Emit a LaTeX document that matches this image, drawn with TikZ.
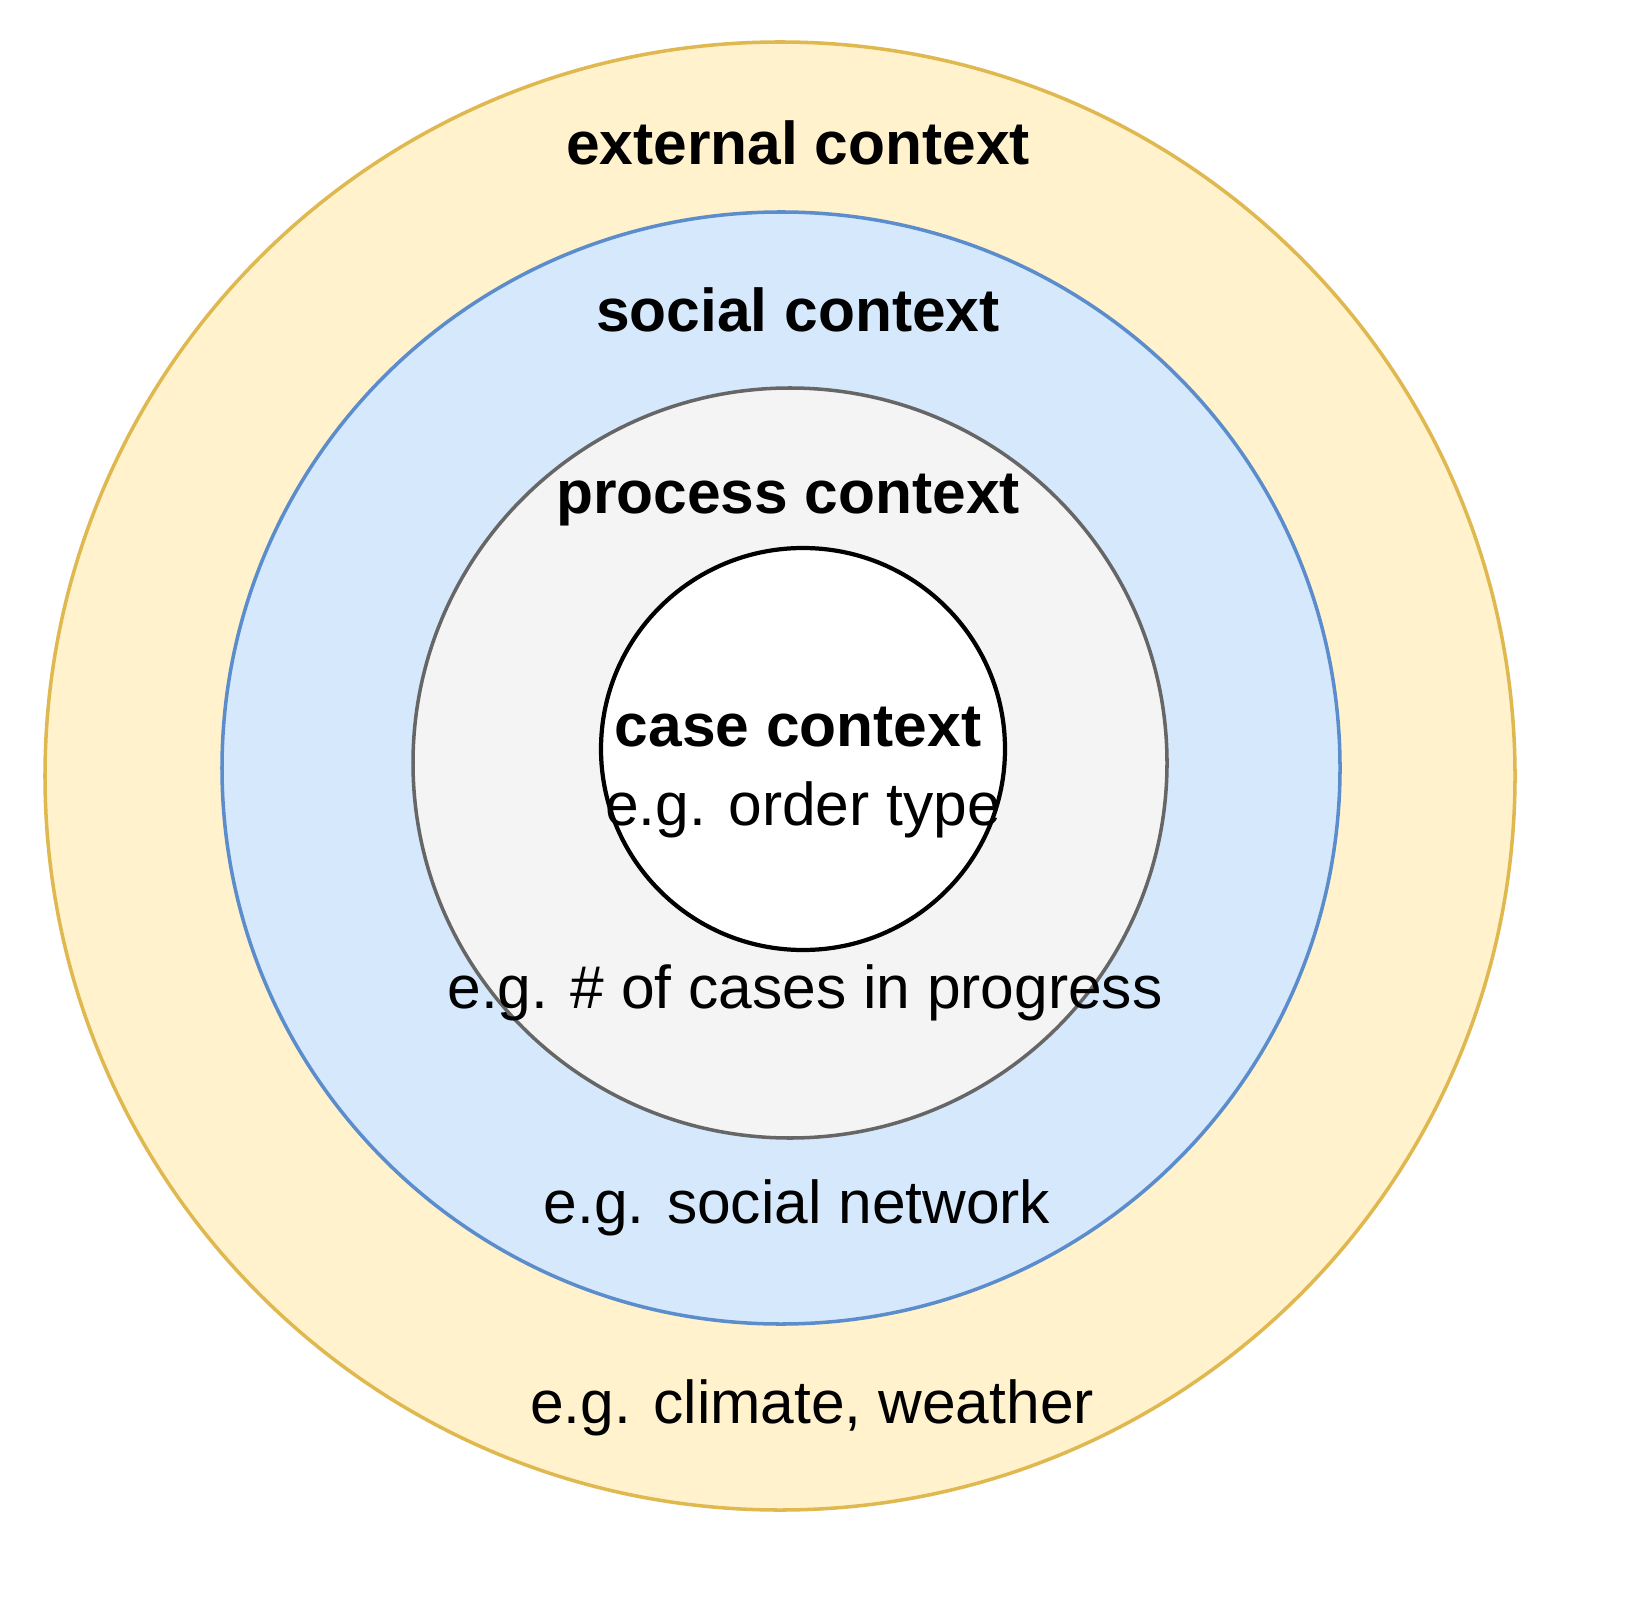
\documentclass[tikz,border=0pt]{standalone}
\usepackage{fontspec}
\setmainfont{Liberation Sans}
\definecolor{yfill}{HTML}{FFF2CC}\definecolor{ydraw}{HTML}{E0B850}
\definecolor{bfill}{HTML}{D6E8FC}\definecolor{bdraw}{HTML}{5B8CCB}
\definecolor{gfill}{HTML}{F4F4F4}\definecolor{gdraw}{HTML}{666666}
\begin{document}
\begin{tikzpicture}[x=0.01cm,y=-0.01cm,
  lbl/.style={font=\fontsize{17.2}{20}\selectfont\bfseries,inner sep=0},
  ex/.style={font=\fontsize{17.2}{20}\selectfont,inner sep=0}]
\useasboundingbox (0,0) rectangle (1637,1619);
\fill[white] (0,0) rectangle (1637,1619);
\draw[ydraw,fill=yfill,line width=1pt] (780,776) ellipse [x radius=735,y radius=734];
\draw[bdraw,fill=bfill,line width=1pt] (781,768) ellipse [x radius=559,y radius=556];
\draw[gdraw,fill=gfill,line width=1pt] (790,763) ellipse [x radius=377,y radius=375];
\draw[black,fill=white,line width=1.2pt] (803,749) ellipse [x radius=202,y radius=201];
\node[lbl] (ext) at (798,143) {external context};
\node[lbl] (soc) at (798,310) {social context};
\node[lbl] (proc) at (788,500) {process context};
\node[lbl] (case) at (798,727) {case context};
\node[ex] (ot) at (803,810) {e.g. order type};
\node[ex] (cip) at (805,993) {e.g. \# of cases in progress};
\node[ex] (sn) at (797,1208) {e.g. social network};
\node[ex] (cw) at (812,1408) {e.g. climate, weather};
\end{tikzpicture}
\end{document}
